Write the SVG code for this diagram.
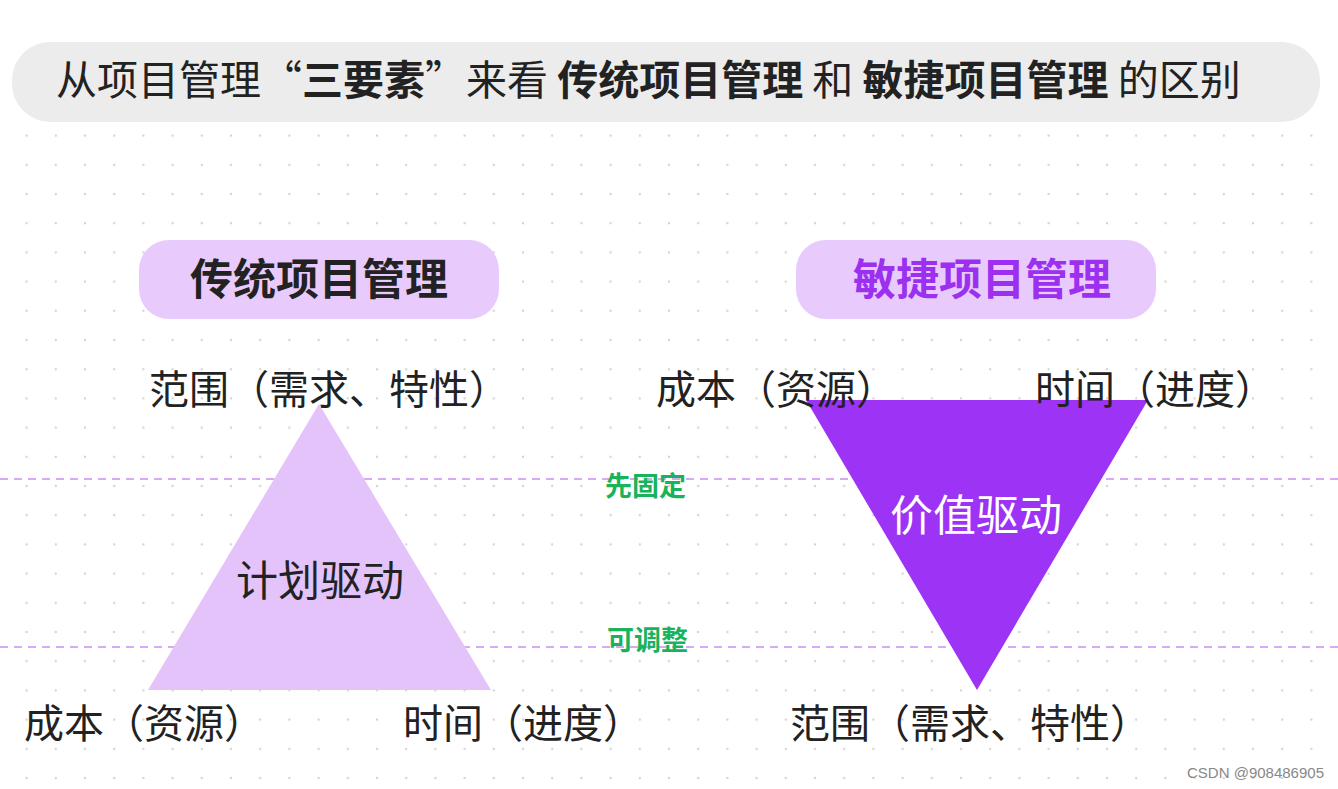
<svg xmlns="http://www.w3.org/2000/svg" width="1338" height="789" viewBox="0 0 1338 789">
<defs>
<pattern id="dots" x="12" y="121" width="29.2" height="29.2" patternUnits="userSpaceOnUse"><circle cx="14.6" cy="14.6" r="1.2" fill="#d4d4d4"/></pattern>
<style>
text{font-family:"Noto Sans CJK SC","Noto Sans",sans-serif;}
.lbl{font-size:40px;fill:#222;}
.dash{stroke:#c98ef2;stroke-width:1.6;stroke-dasharray:8 6;}
.g{font-size:27px;font-weight:bold;fill:#18b35a;}
</style>
</defs>
<rect width="1338" height="789" fill="#fff"/>
<rect x="0" y="121" width="1338" height="668" fill="url(#dots)"/>
<g id="title"><rect x="12" y="42" width="1308" height="80" rx="38" fill="#ececec"/>
<text x="56" y="95" style="font-size:41px;fill:#222">从项目管理“<tspan font-weight="bold">三要素</tspan>”来看 <tspan font-weight="bold">传统项目管理</tspan> 和 <tspan font-weight="bold">敏捷项目管理</tspan> 的区别</text></g>
<g id="connectors"><line class="dash" x1="0" y1="479" x2="1338" y2="479"/><line class="dash" x1="0" y1="647" x2="1338" y2="647"/></g>
<g id="trad-head"><rect x="139" y="240" width="360" height="79" rx="30" fill="#e8cafc"/><text x="319" y="295" text-anchor="middle" style="font-size:43px;font-weight:bold;fill:#222">传统项目管理</text></g>
<g id="agile-head"><rect x="796" y="240" width="360" height="79" rx="30" fill="#e8cafc"/><text x="982" y="295" text-anchor="middle" style="font-size:43px;font-weight:bold;fill:#9b30f0">敏捷项目管理</text></g>
<g id="trad-tri"><polygon points="319,404 148,690 491,690" fill="#e4c3fb"/><text x="320" y="596" text-anchor="middle" style="font-size:42px;fill:#222">计划驱动</text></g>
<g id="agile-tri"><polygon points="806,400 1148,400 977,690" fill="#9c33f5"/><text x="976" y="531" text-anchor="middle" style="font-size:43px;fill:#fff">价值驱动</text></g>
<text class="lbl" x="149" y="404">范围（需求、特性）</text>
<text class="lbl" x="24" y="738">成本（资源）</text>
<text class="lbl" x="403" y="738">时间（进度）</text>
<text class="lbl" x="656" y="404">成本（资源）</text>
<text class="lbl" x="1035" y="404">时间（进度）</text>
<text class="lbl" x="790" y="738">范围（需求、特性）</text>
<text class="g" x="605" y="496">先固定</text>
<text class="g" x="607" y="650">可调整</text>
<text x="1324" y="778" text-anchor="end" style="font-size:15px;fill:#888;font-family:'Liberation Sans',sans-serif">CSDN @908486905</text>
</svg>
